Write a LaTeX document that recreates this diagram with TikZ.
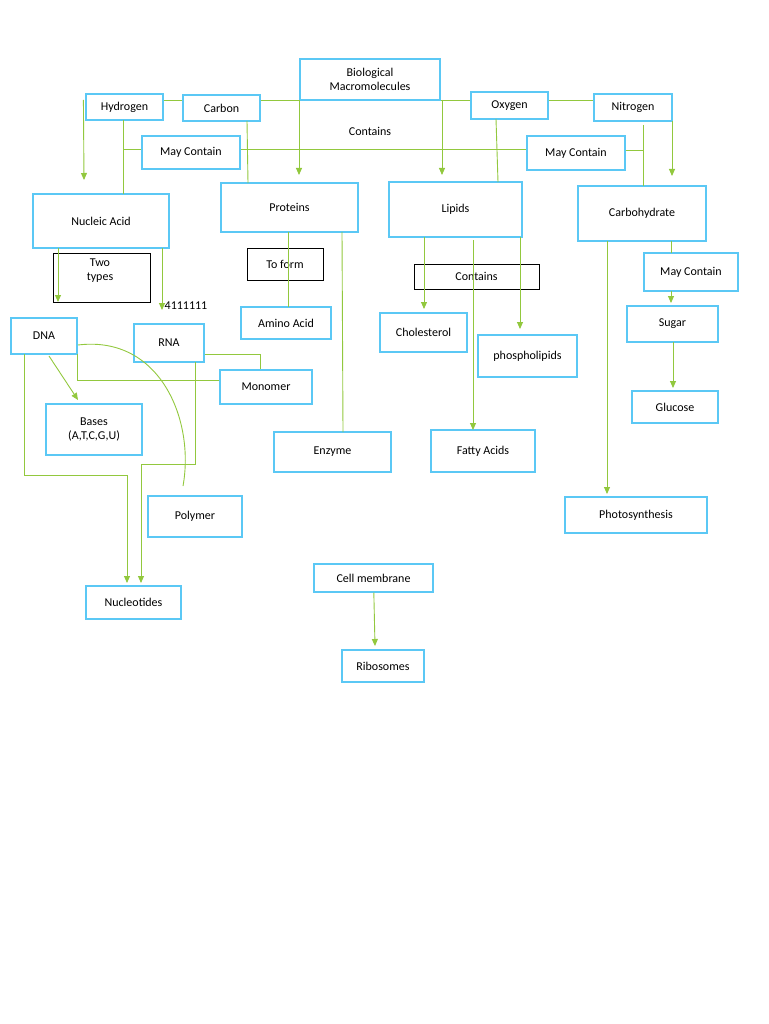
\documentclass[tikz,border=0pt]{standalone}
\usepackage{fontspec}
\setmainfont{Carlito}
\usetikzlibrary{arrows.meta}
\definecolor{bl}{HTML}{5BC8F5}
\definecolor{gr}{HTML}{92C83E}
\begin{document}
\begin{tikzpicture}[x=1pt,y=-1pt,font=\fontsize{12}{14}\selectfont,
  bx/.style={draw=bl,line width=1.2pt,align=center},
  kb/.style={draw=black,line width=0.8pt,align=center},
  ln/.style={draw=gr,line width=0.9pt},
  ar/.style={ln,-{Triangle[width=6pt,length=7pt]}}]
\useasboundingbox (0,0) rectangle (768,1024);
\newcommand\bxx[6]{\node[#1,minimum width=#4-#2,minimum height=#5-#3,inner sep=0pt] (#6) at ({(#2+#4)/2},{(#3+#5)/2})}
\bxx{bx}{300}{59}{440}{100}{bio} {Biological\\Macromolecules};
\bxx{bx}{86}{94}{163}{120}{hyd} {Hydrogen};
\bxx{bx}{183}{95}{260}{121}{car} {Carbon};
\bxx{bx}{471}{92}{548}{119}{oxy} {Oxygen};
\bxx{bx}{594}{94}{672}{121}{nit} {Nitrogen};
\node (cont) at (370,131) {Contains};
\bxx{bx}{142}{136}{240}{169}{mc1} {May Contain};
\bxx{bx}{527}{136}{625}{170}{mc2} {May Contain};
\bxx{bx}{33}{194}{169}{248}{nuc} {Nucleic Acid};
\bxx{bx}{221}{183}{358}{232}{pro} {Proteins};
\bxx{bx}{389}{182}{522}{237}{lip} {Lipids};
\bxx{bx}{578}{186}{706}{241}{cbh} {Carbohydrate};
\node[kb,minimum width=97,minimum height=49,inner sep=0pt,anchor=north west] (two) at (53,253) {};
\node (twot) at (100,271) [align=center] {Two\\types};
\bxx{kb}{247}{248}{323}{280}{tof} {To form};
\bxx{kb}{414}{264}{539}{289}{con2} {Contains};
\node (num) at (186,306) {4111111};
\bxx{bx}{241}{307}{331}{339}{ami} {Amino Acid};
\bxx{bx}{380}{313}{467}{352}{cho} {Cholesterol};
\bxx{bx}{478}{335}{577}{377}{pho} {phospholipids};
\bxx{bx}{644}{253}{738}{291}{mc3} {May Contain};
\bxx{bx}{627}{306}{718}{342}{sug} {Sugar};
\bxx{bx}{632}{391}{718}{423}{glu} {Glucose};
\bxx{bx}{11}{318}{77}{354}{dna} {DNA};
\bxx{bx}{134}{324}{204}{362}{rna} {RNA};
\bxx{bx}{220}{370}{312}{404}{mon} {Monomer};
\bxx{bx}{46}{404}{142}{455}{bas} {Bases\\(A,T,C,G,U)};
\bxx{bx}{274}{432}{391}{472}{enz} {Enzyme};
\bxx{bx}{431}{430}{535}{472}{fat} {Fatty Acids};
\bxx{bx}{565}{497}{707}{533}{pht} {Photosynthesis};
\bxx{bx}{148}{496}{242}{537}{pol} {Polymer};
\bxx{bx}{86}{586}{181}{619}{nuo} {Nucleotides};
\bxx{bx}{314}{564}{433}{592}{cel} {Cell membrane};
\bxx{bx}{342}{650}{424}{682}{rib} {Ribosomes};
% top line
\draw[ar] (hyd.west |- 0,100) ++(-2,0) coordinate (c0) -- (84,180);
\draw[ln] (hyd.east |- 0,100) -- (car.west |- 0,100);
\draw[ln] (car.east |- 0,100) -- (bio.west |- 0,100);
\draw[ln] (bio.east |- 0,100) -- (oxy.west |- 0,100);
\draw[ln] (oxy.east |- 0,100) -- (nit.west |- 0,100);
\draw[ar] (299,100) -- (299,175);
\draw[ar] (442,100) -- (442,175);
\draw[ar] (672,121) -- (672,176);
\draw[ln] (123,120) -- (123,194);
\draw[ln] (123,149) -- (mc1.west |- 0,149);
\draw[ln] (247,121) -- (248,183);
\draw[ln] (mc1.east |- 0,149) -- (mc2.west |- 0,149);
\draw[ln] (496,119) -- (498,182);
\draw[ln] (mc2.east |- 0,150) -- (644,150);
\draw[ln] (643,125) -- (643,186);
\draw[ar] (58,248) -- (58,302);
\draw[ar] (162,248) -- (162,310);
\draw[ln] (288,232) -- (288,307);
\draw[ln] (342,232) -- (343,432);
\draw[ar] (424,237) -- (424,309);
\draw[ar] (473,240) -- (473,430);
\draw[ar] (520,237) -- (520,329);
\draw[ln] (671,241) -- (671,253);
\draw[ar] (671,291) -- (671,303);
\draw[ar] (673,342) -- (673,388);
\draw[ar] (607,241) -- (607,494);
\draw[ar] (49,356) -- (78,400);
\draw[ar] (24,354) -- (24,475) -- (127,475) -- (127,583);
\draw[ln] (77,354) -- (77,380) -- (mon.west |- 0,380);
\draw[ln] (rna.east |- 0,354) -- (260,354) -- (mon.north -| 260,0);
\draw[ar] (195,362) -- (195,464) -- (141,464) -- (141,583);
\draw[ln] (78,345) .. controls (160,335) and (195,420) .. (183,486);
\draw[ar] (cel) -- (375,646);
\end{tikzpicture}
\end{document}
